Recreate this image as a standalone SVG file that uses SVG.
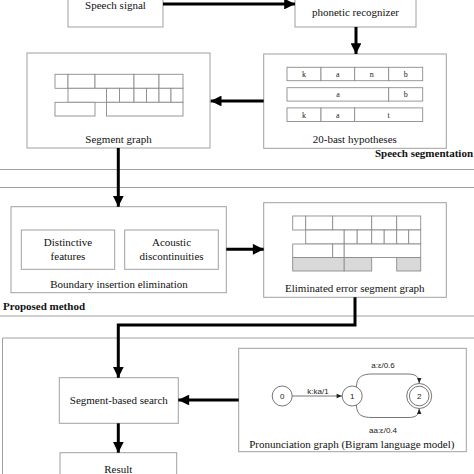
<svg xmlns="http://www.w3.org/2000/svg" width="474" height="474" viewBox="0 0 474 474">
<style>
.box{fill:#fff;stroke:#a0a0a0;stroke-width:1}
.sep{stroke:#a0a0a0;stroke-width:1;fill:none}
.cell{fill:#fff;stroke:#8c8c8c;stroke-width:0.9}
.gray{fill:#d9d9d9;stroke:#8c8c8c;stroke-width:0.9}
.t{font-family:"Liberation Serif","Times New Roman",serif;font-size:11px;fill:#111;text-anchor:middle}
.b{font-family:"Liberation Serif","Times New Roman",serif;font-size:11px;font-weight:bold;fill:#111}
.s{font-family:"Liberation Serif","Times New Roman",serif;font-size:8px;fill:#222;text-anchor:middle}
.g{font-family:"Liberation Sans",Arial,sans-serif;font-size:8px;fill:#222;text-anchor:middle}
.arr{stroke:#000;stroke-width:3;fill:none;marker-end:url(#ah)}
.st{fill:#fff;stroke:#666;stroke-width:0.9}
.ge{stroke:#666;stroke-width:0.9;fill:none;marker-end:url(#sh)}
</style>
<defs>
<marker id="ah" viewBox="0 0 10 10" refX="10" refY="5" markerWidth="4" markerHeight="3.6" orient="auto" markerUnits="strokeWidth">
<path d="M0,0 L10,5 L0,10 z" fill="#000"/>
</marker>
<marker id="sh" viewBox="0 0 10 10" refX="10" refY="5" markerWidth="7" markerHeight="6" orient="auto" markerUnits="strokeWidth">
<path d="M0,1 L10,5 L0,9 z" fill="#222"/>
</marker>
<g id="grid">
<rect class="cell" x="0" y="0" width="13" height="14"/>
<rect class="cell" x="13" y="0" width="27" height="14"/>
<rect class="cell" x="40" y="0" width="39" height="14"/>
<rect class="cell" x="79" y="0" width="25" height="14"/>
<rect class="cell" x="104" y="0" width="24" height="14"/>
<rect class="cell" x="13" y="14" width="38.5" height="14"/>
<rect class="cell" x="51.5" y="14" width="13" height="14"/>
<rect class="cell" x="64.5" y="14" width="14.5" height="14"/>
<rect class="cell" x="79" y="14" width="12.5" height="14"/>
<rect class="cell" x="91.5" y="14" width="12.5" height="14"/>
<rect class="cell" x="104" y="14" width="12" height="14"/>
<rect class="cell" x="116" y="14" width="12" height="14"/>
</g>
</defs>
<rect width="474" height="474" fill="#fff"/>

<g id="sections">
<line class="sep" x1="0" y1="169.5" x2="474" y2="169.5"/>
<line class="sep" x1="0" y1="187.5" x2="474" y2="187.5"/>
<line class="sep" x1="0" y1="316" x2="474" y2="316"/>
<path class="sep" d="M2.5,474 V338 H474"/>
<text class="b" x="473" y="157" text-anchor="end">Speech segmentation</text>
<text class="b" x="3" y="310">Proposed method</text>
</g>

<g id="speech-signal">
<rect class="box" x="68" y="-5" width="95" height="32"/>
<text class="t" x="115.5" y="8.5">Speech signal</text>
</g>

<g id="phonetic-recognizer">
<rect class="box" x="295" y="-5" width="121" height="32"/>
<text class="t" x="355.5" y="15.5">phonetic recognizer</text>
</g>

<g id="hypotheses">
<rect class="box" x="263.7" y="54" width="182.6" height="94.3"/>
<rect class="cell" x="287" y="67.3" width="34" height="13.4"/>
<rect class="cell" x="321" y="67.3" width="33.7" height="13.4"/>
<rect class="cell" x="354.7" y="67.3" width="34" height="13.4"/>
<rect class="cell" x="388.7" y="67.3" width="34" height="13.4"/>
<rect class="cell" x="287" y="87.7" width="101.7" height="13.4"/>
<rect class="cell" x="388.7" y="87.7" width="34" height="13.4"/>
<rect class="cell" x="287" y="107.9" width="34" height="13.6"/>
<rect class="cell" x="321" y="107.9" width="33.7" height="13.6"/>
<rect class="cell" x="354.7" y="107.9" width="68" height="13.6"/>
<text class="s" x="304" y="77">k</text>
<text class="s" x="337.8" y="77">a</text>
<text class="s" x="371.7" y="77">n</text>
<text class="s" x="405.7" y="77">b</text>
<text class="s" x="338" y="97.3">a</text>
<text class="s" x="405.7" y="97.3">b</text>
<text class="s" x="304" y="117.7">k</text>
<text class="s" x="337.8" y="117.7">a</text>
<text class="s" x="388.7" y="117.7">t</text>
<text class="t" x="354.8" y="143">20-bast hypotheses</text>
</g>

<g id="segment-graph">
<rect class="box" x="27" y="53" width="183" height="95"/>
<g transform="translate(55,74.3)">
<use href="#grid"/>
<rect class="cell" x="0" y="28" width="40" height="13.7"/>
<rect class="cell" x="51.5" y="28" width="76.5" height="13.7"/>
</g>
<text class="t" x="118.5" y="143">Segment graph</text>
</g>

<g id="boundary-elimination">
<rect class="box" x="11" y="206.7" width="215.3" height="86"/>
<rect class="box" x="21.3" y="230" width="93.4" height="39.3"/>
<rect class="box" x="124.7" y="230" width="93.6" height="39.3"/>
<text class="t" x="68" y="246">Distinctive</text>
<text class="t" x="68" y="260">features</text>
<text class="t" x="171.5" y="246">Acoustic</text>
<text class="t" x="171.5" y="260">discontinuities</text>
<text class="t" x="119" y="288">Boundary insertion elimination</text>
</g>

<g id="eliminated-graph">
<rect class="box" x="263.7" y="202.7" width="182.6" height="94.6"/>
<g transform="translate(292.7,216)">
<use href="#grid"/>
<rect class="cell" x="0" y="28" width="40" height="13.5"/>
<rect class="cell" x="40" y="28" width="11.5" height="13.5"/>
<rect class="cell" x="51.5" y="28" width="76.5" height="13.5"/>
<rect class="gray" x="0" y="41.5" width="51.5" height="13.5"/>
<rect class="gray" x="51.5" y="41.5" width="27.5" height="13.5"/>
<rect class="gray" x="104" y="41.5" width="24" height="13.5"/>
</g>
<text class="t" x="354.8" y="291.5">Eliminated error segment graph</text>
</g>

<g id="segment-search">
<rect class="box" x="59.3" y="377.7" width="119" height="45.6"/>
<text class="t" x="118.8" y="403.5">Segment-based search</text>
</g>

<g id="result">
<rect class="box" x="60" y="452.7" width="116.7" height="30"/>
<text class="t" x="118.3" y="472.5">Result</text>
</g>

<g id="pronunciation-graph">
<rect class="box" x="238.7" y="348.3" width="227.6" height="103.4"/>
<circle class="st" cx="282.2" cy="396" r="10"/>
<circle class="st" cx="352.2" cy="396" r="10"/>
<circle class="st" cx="419.2" cy="396" r="12.5"/>
<circle class="st" cx="419.2" cy="396" r="9.8"/>
<text class="g" x="282.2" y="399">0</text>
<text class="g" x="352.2" y="399">1</text>
<text class="g" x="419.2" y="399">2</text>
<line class="ge" x1="292.2" y1="396" x2="342" y2="396"/>
<path class="ge" d="M356.5,387 C356.5,377 362,374 372,374 L408,374 C416,374 419.2,377 419.2,383.3"/>
<path class="ge" d="M356.5,405 C356.5,415 362,417.5 372,417.5 L408,417.5 C416,417.5 419.2,415 419.2,408.7"/>
<text class="g" x="318" y="394">k:ka/1</text>
<text class="g" x="383" y="368">a:ε/0.6</text>
<text class="g" x="383" y="433">aa:ε/0.4</text>
<text class="t" x="351.8" y="448" font-size="11.5">Pronunciation graph (Bigram language model)</text>
</g>

<g id="connectors">
<line class="arr" x1="163" y1="4" x2="295" y2="4"/>
<line class="arr" x1="356" y1="27" x2="356" y2="54"/>
<line class="arr" x1="263.7" y1="101" x2="210.7" y2="101"/>
<line class="arr" x1="118.3" y1="148" x2="118.3" y2="206.7"/>
<line class="arr" x1="226.3" y1="249.3" x2="263.7" y2="249.3"/>
<path class="arr" d="M355,297.3 V325 H118.3 V377.7"/>
<line class="arr" x1="238.7" y1="400" x2="178.3" y2="400"/>
<line class="arr" x1="118.3" y1="423.3" x2="118.3" y2="452.7"/>
</g>
</svg>
